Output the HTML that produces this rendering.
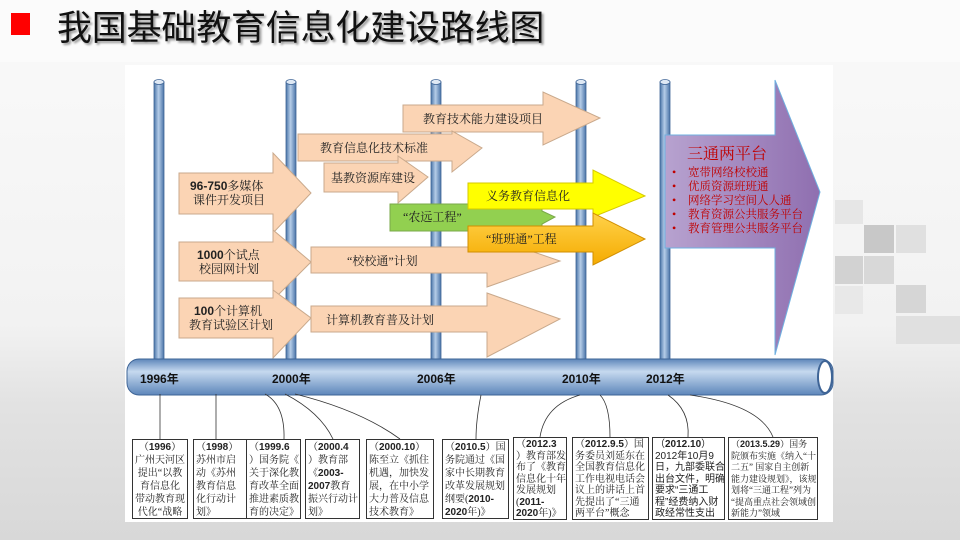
<!DOCTYPE html>
<html><head><meta charset="utf-8">
<style>
html,body{margin:0;padding:0;}
body{width:960px;height:540px;overflow:hidden;background:linear-gradient(#fafafa 0%,#f2f2f2 60%,#e2e2e2 75%,#d8d8d8 100%);position:relative;font-family:"Liberation Sans","Noto Sans CJK SC",sans-serif;}
.box{position:absolute;top:439px;height:80px;border:1px solid #333;background:#fff;font-family:"Liberation Serif","Noto Serif CJK SC",serif;font-size:10px;line-height:13px;color:#222;padding:1px 2px;box-sizing:border-box;overflow:hidden;white-space:nowrap;text-align:left}
.box b{font-family:"Liberation Sans","Noto Sans CJK SC",sans-serif;}
.s7{top:437px;height:83px;line-height:11.5px}
</style></head><body>
<div style="position:absolute;left:0;top:0;width:960px;height:62px;background:#fbfbfb"></div>
<div style="position:absolute;left:11px;top:13px;width:19px;height:22px;background:#f00"></div>
<div style="position:absolute;left:57px;top:7px;font-size:35px;line-height:44px;color:#111;text-shadow:2px 2px 2px #999;font-family:'Liberation Sans','Noto Sans CJK SC',sans-serif;letter-spacing:-0.2px">我国基础教育信息化建设路线图</div>
<div style="position:absolute;left:835px;top:200px;width:28px;height:24px;background:#e6e6e6"></div>
<div style="position:absolute;left:864px;top:225px;width:30px;height:28px;background:#c8c8c8"></div>
<div style="position:absolute;left:835px;top:256px;width:28px;height:28px;background:#d2d2d2"></div>
<div style="position:absolute;left:864px;top:256px;width:30px;height:28px;background:#d8d8d8"></div>
<div style="position:absolute;left:896px;top:225px;width:30px;height:28px;background:#e0e0e0"></div>
<div style="position:absolute;left:896px;top:285px;width:30px;height:28px;background:#d6d6d6"></div>
<div style="position:absolute;left:896px;top:316px;width:64px;height:28px;background:#e0e0e0"></div>
<div style="position:absolute;left:835px;top:286px;width:28px;height:28px;background:#e8e8e8"></div>
<div style="position:absolute;left:125px;top:65px;width:708px;height:457px;background:#fff"></div>

<svg style="position:absolute;left:0;top:0" width="960" height="540">
<defs>
<linearGradient id="pole" x1="0" x2="1"><stop offset="0" stop-color="#4a74a8"/><stop offset="0.45" stop-color="#b5cde8"/><stop offset="1" stop-color="#4a74a8"/></linearGradient>
<linearGradient id="bar" x1="0" y1="0" x2="0" y2="1"><stop offset="0" stop-color="#5d86ba"/><stop offset="0.35" stop-color="#c6d9ef"/><stop offset="1" stop-color="#5d86ba"/></linearGradient>
<linearGradient id="purp" x1="0" y1="0" x2="1" y2="0"><stop offset="0" stop-color="#b7a2cf"/><stop offset="1" stop-color="#8f6fb0"/></linearGradient>
<linearGradient id="org" x1="0" y1="0" x2="0" y2="1"><stop offset="0" stop-color="#ffd24a"/><stop offset="1" stop-color="#f5ab00"/></linearGradient>
</defs>
<g stroke="#3e6496" stroke-width="0.8">
<rect x="154" y="82" width="10" height="282" fill="url(#pole)"/>
<rect x="286" y="82" width="10" height="282" fill="url(#pole)"/>
<rect x="431" y="82" width="10" height="282" fill="url(#pole)"/>
<rect x="576" y="82" width="10" height="282" fill="url(#pole)"/>
<rect x="660" y="82" width="10" height="282" fill="url(#pole)"/>
<ellipse cx="159" cy="82" rx="5" ry="2.5" fill="#dfe9f5"/>
<ellipse cx="291" cy="82" rx="5" ry="2.5" fill="#dfe9f5"/>
<ellipse cx="436" cy="82" rx="5" ry="2.5" fill="#dfe9f5"/>
<ellipse cx="581" cy="82" rx="5" ry="2.5" fill="#dfe9f5"/>
<ellipse cx="665" cy="82" rx="5" ry="2.5" fill="#dfe9f5"/>
</g>
<g fill="#fbd4b4" stroke="#c9a98c" stroke-width="1">
<polygon points="403,105 543,105 543,92 600,118 543,145 543,132 403,132"/>
<polygon points="298,134 452,134 452,131 482,148 452,172 452,161 298,161"/>
<polygon points="324,163 398,163 398,156 428,177 398,203 398,192 324,192"/>
<polygon points="179,173 273,173 273,153 311,193 273,233 273,214 179,214"/>
<polygon points="179,242 273,242 273,230 311,262 273,300 273,281 179,281"/>
<polygon points="179,298 273,298 273,290 311,318 273,358 273,338 179,338"/>
<polygon points="311,247 487,247 487,236 560,261 487,287 487,273 311,273"/>
<polygon points="311,306 487,306 487,293 560,319 487,357 487,332 311,332"/>
</g>
<polygon points="390,204 542,204 542,211 555,217 542,224 542,231 390,231" fill="#92d050" stroke="#7aa84a"/>
<polygon points="468,183 593,183 593,170 645,196 593,217 593,209 468,209" fill="#ffff00" stroke="#d6c800"/>
<polygon points="468,226 593,226 593,213 645,239 593,265 593,252 468,252" fill="url(#org)" stroke="#d08e00"/>
<polygon points="665,135 775,135 775,80 820,192 775,355 775,248 665,248" fill="url(#purp)" stroke="#6fb0e0" stroke-width="1"/>
<rect x="127" y="359" width="706" height="36" rx="12" fill="url(#bar)" stroke="#3e6496"/>
<ellipse cx="825" cy="377" rx="7" ry="16" fill="#fff" stroke="#3e6496" stroke-width="2"/>
<g font-family="Liberation Sans,Noto Sans CJK SC,sans-serif" font-size="12" font-weight="bold" fill="#111">
<text x="140" y="383">1996年</text><text x="272" y="383">2000年</text><text x="417" y="383">2006年</text><text x="562" y="383">2010年</text><text x="646" y="383">2012年</text>
</g>
<g stroke="#333" stroke-width="0.8" fill="none">
<path d="M160,394 L160,439"/><path d="M216,394 L216,439"/>
<path d="M265,394 Q285,405 284,439"/><path d="M285,394 Q320,412 333,439"/>
<path d="M295,394 Q360,410 400,439"/>
<path d="M481,395 Q476,420 476,439"/>
<path d="M580,395 Q545,405 540,437"/>
<path d="M600,395 Q610,405 610,437"/>
<path d="M668,395 Q690,410 688,437"/>
<path d="M690,395 Q760,405 773,437"/>
</g>
<g font-family="Liberation Serif,Noto Serif CJK SC,serif" font-size="12" fill="#222">
<text x="423" y="123">教育技术能力建设项目</text>
<text x="320" y="152">教育信息化技术标准</text>
<text x="331" y="182">基教资源库建设</text>
<text x="190" y="190"><tspan font-weight="bold" font-family="Liberation Sans,sans-serif">96-750</tspan>多媒体</text>
<text x="193" y="204">课件开发项目</text>
<text x="197" y="259"><tspan font-weight="bold" font-family="Liberation Sans,sans-serif">1000</tspan>个试点</text>
<text x="199" y="273">校园网计划</text>
<text x="194" y="315"><tspan font-weight="bold" font-family="Liberation Sans,sans-serif">100</tspan>个计算机</text>
<text x="189" y="329">教育试验区计划</text>
<text x="347" y="265">“校校通”计划</text>
<text x="326" y="324">计算机教育普及计划</text>
<text x="403" y="221">“农远工程”</text>
<text x="486" y="200">义务教育信息化</text>
<text x="486" y="243">“班班通”工程</text>
</g>
<g font-family="Liberation Serif,Noto Serif CJK SC,serif" fill="#c00000">
<text x="687" y="159" font-size="16">三通两平台</text>
<g font-size="11.5">
<text x="688" y="176">宽带网络校校通</text><text x="688" y="190">优质资源班班通</text><text x="688" y="204">网络学习空间人人通</text><text x="688" y="218">教育资源公共服务平台</text><text x="688" y="232">教育管理公共服务平台</text>
</g>
<g font-size="12"><text x="672" y="176">•</text><text x="672" y="190">•</text><text x="672" y="204">•</text><text x="672" y="218">•</text><text x="672" y="232">•</text></g>
</g>
</svg>

<div class="box" style="left:132px;width:56px;text-align:center">（<b>1996</b>）<br>广州天河区<br>提出“以教<br>育信息化<br>带动教育现<br>代化“战略</div>
<div class="box" style="left:193px;width:54px">（<b>1998</b>）<br>苏州市启<br>动《苏州<br>教育信息<br>化行动计<br>划》</div>
<div class="box" style="left:246px;width:55px">（<b>1999.6</b><br>）国务院《<br>关于深化教<br>育改革全面<br>推进素质教<br>育的决定》</div>
<div class="box" style="left:305px;width:55px">（<b>2000.4</b><br>）教育部<br>《<b>2003-</b><br><b>2007</b>教育<br>振兴行动计<br>划》</div>
<div class="box" style="left:366px;width:68px">（<b>2000.10</b>）<br>陈至立《抓住<br>机遇，加快发<br>展，在中小学<br>大力普及信息<br>技术教育》</div>
<div class="box" style="left:442px;width:67px">（<b>2010.5</b>）国<br>务院通过《国<br>家中长期教育<br>改革发展规划<br>纲要(<b>2010-</b><br><b>2020</b>年)》</div>
<div class="box s7" style="left:513px;width:54px">（<b>2012.3</b><br>）教育部发<br>布了《教育<br>信息化十年<br>发展规划<br>(<b>2011-</b><br><b>2020</b>年)》</div>
<div class="box s7" style="left:572px;width:77px">（<b>2012.9.5</b>）国<br>务委员刘延东在<br>全国教育信息化<br>工作电视电话会<br>议上的讲话上首<br>先提出了“三通<br>两平台”概念</div>
<div class="box s7" style="left:652px;width:73px;font-family:'Liberation Sans','Noto Sans CJK SC',sans-serif">（<b>2012.10</b>）<br>2012年10月9<br>日，九部委联合<br>出台文件，明确<br>要求“三通工<br>程”经费纳入财<br>政经常性支出</div>
<div class="box s7" style="left:728px;width:90px;font-size:9px">（<b>2013.5.29</b>）国务<br>院颁布实施《纳入“十<br>二五” 国家自主创新<br>能力建设规划》，该规<br>划将“三通工程”列为<br>“提高重点社会领域创<br>新能力”领域</div>
</body></html>
